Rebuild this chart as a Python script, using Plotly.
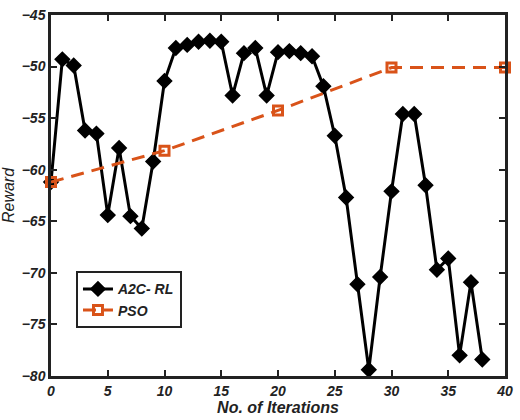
import plotly.graph_objects as go

# A2C-RL reward per iteration
a2c_x = list(range(0, 39))
a2c_y = [-61.2, -49.3, -49.9, -56.2, -56.5, -64.4, -57.9, -64.5, -65.7, -59.2,
         -51.4, -48.2, -47.9, -47.6, -47.5, -47.6, -52.8, -48.7, -48.2, -52.8,
         -48.6, -48.5, -48.7, -49.0, -51.9, -56.7, -62.7, -71.1, -79.4, -70.4,
         -62.1, -54.6, -54.6, -61.5, -69.7, -68.6, -78.0, -70.9, -78.4]

# PSO reward, sampled every 10 iterations
pso_x = [0, 10, 20, 30, 40]
pso_y = [-61.2, -58.15, -54.25, -50.1, -50.1]

x_ticks = [0, 5, 10, 15, 20, 25, 30, 35, 40]
y_ticks = [-80, -75, -70, -65, -60, -55, -50, -45]

orange = "#D95319"
ink = "#222222"
font_family = "Liberation Sans, Arial, sans-serif"

fig = go.Figure()

fig.add_trace(go.Scatter(
    x=a2c_x, y=a2c_y, name="<b><i>A2C- RL</i></b>",
    mode="lines+markers",
    line=dict(color="black", width=3),
    marker=dict(symbol="diamond", size=11, color="black",
                line=dict(color="black", width=1.5)),
    cliponaxis=False,
))

fig.add_trace(go.Scatter(
    x=pso_x, y=pso_y, name="<b><i>PSO</i></b>",
    mode="lines+markers",
    line=dict(color=orange, width=3, dash="13px,8px"),
    marker=dict(symbol="square-open", size=9, color=orange,
                line=dict(color=orange, width=3)),
    cliponaxis=False,
))

axis_common = dict(
    showline=True, linecolor=ink, linewidth=2.5, mirror="ticks",
    ticks="inside", ticklen=6, tickwidth=2, tickcolor=ink,
    showgrid=False, zeroline=False,
    tickfont=dict(family=font_family, size=14, color=ink),
)

fig.update_xaxes(
    range=[0, 40], tickvals=x_ticks,
    ticktext=[f"<b><i>{t}</i></b>" for t in x_ticks],
    title=dict(text="<b><i>No. of Iterations</i></b>", standoff=3,
               font=dict(family=font_family, size=16, color=ink)),
    **axis_common,
)
fig.update_yaxes(
    range=[-80, -45], tickvals=y_ticks,
    ticktext=[f"<b><i>{str(t).replace('-', '\u2212')}</i></b>" for t in y_ticks],
    title=dict(text="<i>Reward</i>", standoff=4,
               font=dict(family=font_family, size=16, color=ink)),
    **axis_common,
)

fig.update_layout(
    width=520, height=420,
    margin=dict(l=47, r=11, t=7, b=43),
    plot_bgcolor="white", paper_bgcolor="white",
    font=dict(family=font_family, color=ink),
    legend=dict(
        x=0.055, y=0.29, xanchor="left", yanchor="top",
        bgcolor="white", bordercolor=ink, borderwidth=2,
        font=dict(family=font_family, size=14, color=ink),
        itemwidth=30,
        tracegroupgap=2,
    ),
)

fig.write_html("out.html", config={"displayModeBar": False},
               post_script="document.body.style.margin='0';")
